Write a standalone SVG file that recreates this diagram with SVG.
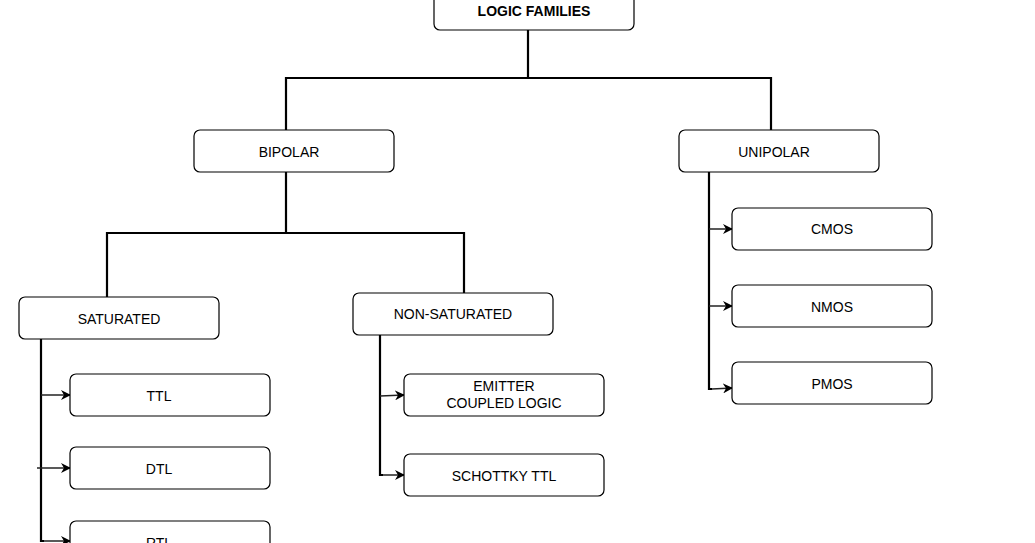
<svg xmlns="http://www.w3.org/2000/svg" width="1035" height="543" viewBox="0 0 1035 543">
<defs>
<style>
.n{fill:#fff;stroke:#000;stroke-width:1.2}
.t{font-family:"Liberation Sans",Arial,sans-serif;font-size:14px;fill:#000;text-anchor:middle;dominant-baseline:central}
.e{fill:none;stroke:#000;stroke-width:2.2}
.a{fill:none;stroke:#222;stroke-width:1.5;marker-end:url(#ah)}
</style>
<marker id="ah" markerWidth="10" markerHeight="10" refX="9" refY="5" orient="auto" markerUnits="userSpaceOnUse"><path d="M0,0 L10,5 L0,10 L3,5 Z" fill="#000"/></marker>
</defs>
<rect width="1035" height="543" fill="#fff"/>
<g id="connectors">
<path class="e" d="M528,30 V78 M286,130 V78 H771 V130"/>
<path class="e" d="M286,172 V233 M107,297 V233 H464 V293"/>
<path class="e" d="M41,339 V541 H44"/>
<path class="a" d="M41,395 H70"/>
<path class="a" d="M37,468 H70"/>
<path class="a" d="M44,541 H70"/>
<path class="e" d="M380,335 V475 H383"/>
<path class="a" d="M380,396 L404,395"/>
<path class="a" d="M383,475 H404"/>
<path class="e" d="M709,172 V389 H712"/>
<path class="a" d="M709,229 H732"/>
<path class="a" d="M709,306 H732"/>
<path class="a" d="M712,389 L732,388"/>
</g>
<g id="logic"><rect class="n" x="434" y="-10" width="200" height="40" rx="6"/><text class="t" x="534" y="11" font-weight="bold">LOGIC FAMILIES</text></g>
<g id="bipolar"><rect class="n" x="194" y="130" width="200" height="42" rx="6"/><text class="t" x="289" y="152">BIPOLAR</text></g>
<g id="unipolar"><rect class="n" x="679" y="130" width="200" height="42" rx="6"/><text class="t" x="774" y="152">UNIPOLAR</text></g>
<g id="saturated"><rect class="n" x="19" y="297" width="200" height="42" rx="6"/><text class="t" x="119" y="319">SATURATED</text></g>
<g id="nonsat"><rect class="n" x="353" y="293" width="200" height="42" rx="6"/><text class="t" x="453" y="314">NON-SATURATED</text></g>
<g id="ttl"><rect class="n" x="70" y="374" width="200" height="42" rx="6"/><text class="t" x="159" y="396">TTL</text></g>
<g id="dtl"><rect class="n" x="70" y="447" width="200" height="42" rx="6"/><text class="t" x="159" y="469">DTL</text></g>
<g id="rtl"><rect class="n" x="70" y="521" width="200" height="42" rx="6"/><text class="t" x="159" y="543">RTL</text></g>
<g id="ecl"><rect class="n" x="404" y="374" width="200" height="42" rx="6"/><text class="t" x="504" y="386">EMITTER</text><text class="t" x="504" y="403">COUPLED LOGIC</text></g>
<g id="schottky"><rect class="n" x="404" y="454" width="200" height="42" rx="6"/><text class="t" x="504" y="476">SCHOTTKY TTL</text></g>
<g id="cmos"><rect class="n" x="732" y="208" width="200" height="42" rx="6"/><text class="t" x="832" y="229">CMOS</text></g>
<g id="nmos"><rect class="n" x="732" y="285" width="200" height="42" rx="6"/><text class="t" x="832" y="307">NMOS</text></g>
<g id="pmos"><rect class="n" x="732" y="362" width="200" height="42" rx="6"/><text class="t" x="832" y="384">PMOS</text></g>
</svg>
